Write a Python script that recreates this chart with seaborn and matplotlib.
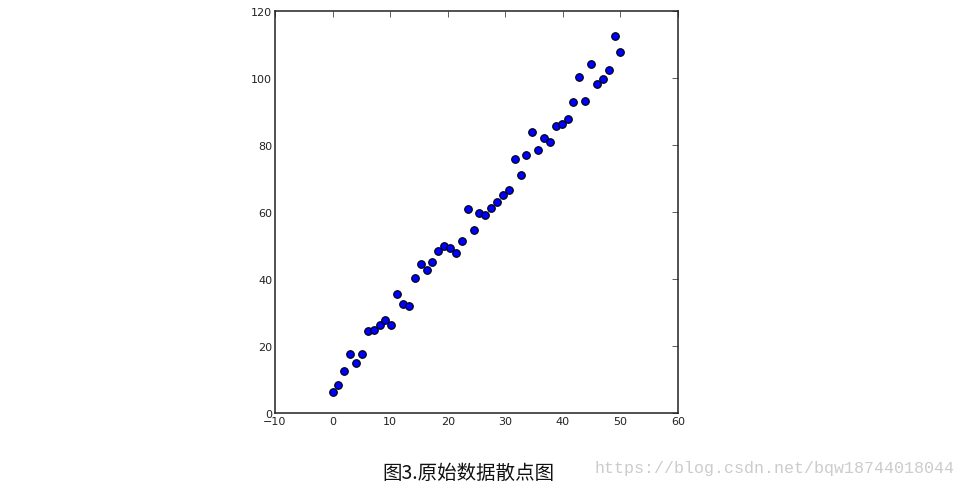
import numpy as np
import pandas as pd
import matplotlib
matplotlib.use("Agg")
import matplotlib.pyplot as plt
import seaborn as sns

# 50 evenly spaced x values from 0 to 50, y
x_values = np.linspace(0, 50, 50)
y_values = [6.2, 8.4, 12.6, 17.6, 14.8, 17.6, 24.4, 24.8, 26.3, 27.8,
            26.4, 35.6, 32.4, 31.8, 40.4, 44.6, 42.8, 45.0, 48.3, 50.0,
            49.4, 47.9, 51.4, 60.8, 54.7, 59.7, 59.0, 61.1, 63.0, 65.1,
            66.6, 75.9, 71.0, 77.0, 83.8, 78.4, 82.0, 80.9, 85.6, 86.3,
            87.8, 92.8, 100.3, 93.2, 104.3, 98.2, 99.6, 102.5, 112.5, 107.9]
x_ticks = [-10, 0, 10, 20, 30, 40, 50, 60]
y_ticks = [0, 20, 40, 60, 80, 100, 120]
caption = "图3.原始数据散点图"
watermark = "https://blog.csdn.net/bqw18744018044"

sns.set_style("white")
plt.rcParams['font.family'] = ['DejaVu Sans', 'Noto Sans CJK SC']

df = pd.DataFrame({'x': x_values, 'y': y_values})

fig = plt.figure(figsize=(9.67, 4.89), dpi=100)
ax = fig.add_axes([275 / 967, 1 - 414 / 489, 403 / 967, 402 / 489])
sns.scatterplot(data=df, x='x', y='y', ax=ax, color='#0000ff',
                edgecolor='black', linewidth=0.8, s=30, zorder=3)

ax.set_xlim(-10, 60)
ax.set_ylim(0, 120)
ax.set_xticks(x_ticks)
ax.set_yticks(y_ticks)
ax.set_xlabel('')
ax.set_ylabel('')
ax.tick_params(direction='in', length=4, width=0.6, color='#444444',
               top=True, right=True, labelsize=8, pad=2, labelcolor='#222222')
for sp in ax.spines.values():
    sp.set_color('#222222')
    sp.set_linewidth(1.1)

fig.text(468 / 967, 1 - 473 / 489, caption, ha='center', va='center',
         fontsize=14, style='italic', family=['Noto Sans CJK SC', 'DejaVu Sans'],
         color='#111111')
fig.text(955 / 967, 1 - 469 / 489, watermark, ha='right', va='center',
         fontsize=12, family='Liberation Mono', color='#cccccc')

fig.savefig('out.png', dpi=100)
